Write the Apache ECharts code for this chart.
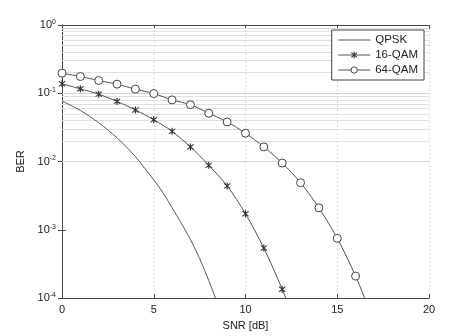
<!DOCTYPE html>
<html><head><meta charset="utf-8">
<script src="https://cdn.jsdelivr.net/npm/echarts@6/dist/echarts.min.js"></script>
<style>html,body{margin:0;padding:0;background:#fff}#c{width:474px;height:336px}</style>
</head><body><div id="c"></div>
<script>
// SNR points (dB) for markers
const snrMarkers = [0,1,2,3,4,5,6,7,8,9,10,11,12,13,14,15,16];
// 64-QAM BER (last point is below axis, line only)
const ber64 = [0.197,0.176,0.154,0.136,0.115,0.099,0.080,0.068,0.051,0.038,0.026,0.0164,0.0095,0.0049,0.0021,0.00075,0.00021];
const ber64Tail = [[17, 0.000045]];
// 16-QAM BER
const snr16 = [0,1,2,3,4,5,6,7,8,9,10,11,12];
const ber16 = [0.138,0.116,0.097,0.076,0.057,0.041,0.0277,0.0164,0.0088,0.0044,0.00172,0.00054,0.000135];
const ber16Tail = [[13, 0.000028]];
// QPSK curve
const snrQpsk = [0,0.5,1,1.5,2,2.5,3,3.5,4,4.5,5,5.5,6,6.5,7,7.5,8,8.5,9];
const berQpsk = [0.077,0.066,0.056,0.046,0.037,0.029,0.0222,0.0165,0.0118,0.0080,0.0054,0.0035,0.0021,0.00125,0.00072,0.00038,0.00018,0.000080,0.000033];
// axis ticks
const xTicks = [0,5,10,15,20];
const yMin = 1e-4, yMax = 1;
const minorGrid = [];
[1e-4,1e-3,1e-2,1e-1].forEach(d=>{for(let k=2;k<=9;k++) minorGrid.push(d*k);});
const majorGrid = [1e-3,1e-2,1e-1];

const lineColor = '#555';
const asterisk = 'path://M-0.8,-5L0.8,-5L0.8,5L-0.8,5Z M-4.6,-3.2L-3.6,-4.2L4.6,3.2L3.6,4.2Z M3.6,-4.2L4.6,-3.2L-3.6,4.2L-4.6,3.2Z';

const chart = echarts.init(document.getElementById('c'));
chart.setOption({
  animation:false,
  backgroundColor:'#fff',
  grid:{left:62,right:45,top:25,bottom:37},
  legend:{
    right:50, top:30, orient:'vertical', itemWidth:32, itemHeight:8, itemGap:3,
    backgroundColor:'#fff', borderColor:'#444', borderWidth:1, padding:[4,6,4,6],
    lineStyle:{width:1},
    textStyle:{fontFamily:'Liberation Sans, Arial', fontSize:11.5, color:'#222'},
    data:[
      {name:'QPSK', itemStyle:{opacity:0}},
      '16-QAM',
      {name:'64-QAM', itemStyle:{color:'#fff', borderColor:'#444', borderWidth:1}}
    ]
  },
  xAxis:[{
    type:'value', min:0, max:20, interval:5,
    name:'SNR [dB]', nameLocation:'middle', nameGap:17,
    nameTextStyle:{fontFamily:'Liberation Sans, Arial', fontSize:11, color:'#222'},
    axisLine:{lineStyle:{color:'#444'}},
    axisTick:{inside:true, length:4, lineStyle:{color:'#444'}},
    axisLabel:{fontFamily:'Liberation Sans, Arial', fontSize:11, color:'#222', margin:6},
    splitLine:{show:true, lineStyle:{color:'#ddd', type:[2,2]}}
  },{
    type:'value', min:0, max:20, interval:5, position:'top',
    axisLine:{show:true, lineStyle:{color:'#444'}},
    axisTick:{show:true, inside:true, length:4, lineStyle:{color:'#444'}},
    axisLabel:{show:false}, splitLine:{show:false}
  }],
  yAxis:[{
    type:'log', min:yMin, max:yMax, logBase:10,
    name:'BER', nameLocation:'middle', nameGap:30, nameRotate:90,
    nameTextStyle:{fontFamily:'Liberation Sans, Arial', fontSize:11, color:'#222'},
    axisLine:{show:true, lineStyle:{color:'#444'}},
    axisTick:{show:true, inside:true, length:4, lineStyle:{color:'#444'}},
    splitLine:{show:false},
    axisLabel:{
      margin:6,
      formatter:function(v){const e=Math.round(Math.log10(v));return '{b|10}{s|'+(e===0?'0':String(e))+'}';},
      rich:{
        b:{fontFamily:'Liberation Sans, Arial', fontSize:11, color:'#222'},
        s:{fontFamily:'Liberation Sans, Arial', fontSize:7, color:'#222', verticalAlign:'top', padding:[0,0,6,0]}
      }
    }
  },{
    type:'log', min:yMin, max:yMax, logBase:10, position:'right',
    axisLine:{show:true, lineStyle:{color:'#444'}},
    axisTick:{show:true, inside:true, length:4, lineStyle:{color:'#444'}},
    axisLabel:{show:false}, splitLine:{show:false}
  }],
  series:[
    {
      name:'QPSK', type:'line', smooth:0.3, symbol:'none', z:3,
      lineStyle:{color:lineColor, width:1}, itemStyle:{color:lineColor},
      data: snrQpsk.map((x,i)=>[x,berQpsk[i]]),
      markLine:{
        silent:true, symbol:'none', label:{show:false}, z:1,
        lineStyle:{color:'#e0e0e0', width:1, type:'solid'},
        data: minorGrid.map(v=>({yAxis:v})).concat(majorGrid.map(v=>({yAxis:v, lineStyle:{color:'#d4d4d4',type:'solid'}})))
      }
    },
    {
      name:'16-QAM', type:'line', smooth:0.3, symbol:asterisk, symbolSize:7, z:4,
      lineStyle:{color:lineColor, width:1}, itemStyle:{color:'#333'},
      data: snr16.map((x,i)=>[x,ber16[i]]).concat(ber16Tail.map(p=>({value:p, symbol:'none'})))
    },
    {
      name:'64-QAM', type:'line', smooth:0.3, symbol:'circle', symbolSize:8, z:5,
      lineStyle:{color:lineColor, width:1}, itemStyle:{color:'#fff', borderColor:'#444', borderWidth:1},
      data: snrMarkers.map((x,i)=>[x,ber64[i]]).concat(ber64Tail.map(p=>({value:p, symbol:'none'})))
    }
  ]
});
</script></body></html>
